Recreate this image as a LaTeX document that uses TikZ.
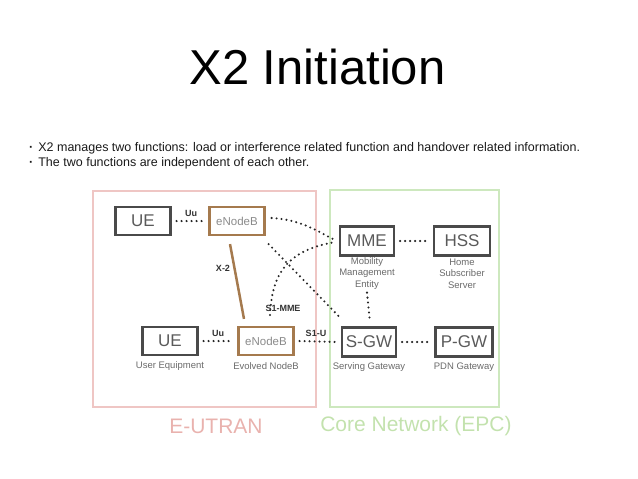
\documentclass[tikz,border=0pt]{standalone}
\usepackage{fontspec}
\setmainfont{Liberation Sans}
\definecolor{boxgray}{HTML}{4A4A4A}
\definecolor{txtgray}{HTML}{5A5A5A}
\definecolor{enbbrown}{HTML}{A57A4E}
\definecolor{enbtxt}{HTML}{8A8A8A}
\definecolor{desctxt}{HTML}{6A6A6A}
\definecolor{pinkline}{HTML}{EFC6C4}
\definecolor{pinktxt}{HTML}{E9B2AE}
\definecolor{greenline}{HTML}{CDE8BE}
\definecolor{greentxt}{HTML}{C3E2AE}
\begin{document}
\begin{tikzpicture}[x=1pt,y=-1pt,
  box/.style={draw=boxgray, line width=2.2pt, minimum width=55pt, minimum height=28pt, inner sep=0pt, text=txtgray, font=\fontsize{17}{17}\selectfont},
  enb/.style={box, draw=enbbrown, text=enbtxt, font=\fontsize{11.5}{11.5}\selectfont},
  desc/.style={text=desctxt, font=\fontsize{9.5}{11.5}\selectfont, align=center, inner sep=0pt},
  lbl/.style={font=\bfseries\fontsize{9}{9}\selectfont, text=black!80, inner sep=0pt},
  link/.style={line width=2.3pt, dash pattern=on 0pt off 5pt, line cap=round, draw=black!85},
  bullet/.style={anchor=base west, inner sep=0pt, font=\fontsize{12.5}{12.5}\selectfont, text=black!90}]
\useasboundingbox (0,0) rectangle (638,479);
% title
\node[anchor=base, inner sep=0pt, font=\fontsize{49}{49}\selectfont] (title) at (317.5,84) {X2 Initiation};
% bullets
\node[bullet] (b1) at (29,151) {\textbf{·}\hspace{5pt}X2 manages two functions: load or interference related function and handover related information.};
\node[bullet] (b2) at (29,166) {\textbf{·}\hspace{5pt}The two functions are independent of each other.};
% region boxes
\draw[pinkline, line width=1.5pt] (93,191) rectangle (316,407);
\draw[greenline, line width=1.5pt] (330,190) rectangle (499,407);
\node[text=pinktxt, font=\fontsize{21}{21}\selectfont, inner sep=0pt] (eutran) at (216,426) {E-UTRAN};
\node[text=greentxt, font=\fontsize{21}{21}\selectfont, inner sep=0pt] (core) at (416,426) {Core Network (EPC)};
% nodes
\node[box] (ue1) at (143,221) {UE};
\node[enb] (enb1) at (237,221) {eNodeB};
\node[box, minimum width=54pt, minimum height=29pt] (mme) at (367,241) {MME};
\node[box, minimum width=56pt, minimum height=29pt] (hss) at (462,241) {HSS};
\node[box] (ue2) at (170,341) {UE};
\node[enb] (enb2) at (266,341) {eNodeB};
\node[box, minimum width=54pt, minimum height=29pt] (sgw) at (369,342) {S-GW};
\node[box, minimum width=57pt, minimum height=29pt] (pgw) at (464,342) {P-GW};
% descriptions
\node[desc] (mmed) at (367,273.5) {Mobility\\Management\\Entity};
\node[desc] (hssd) at (462,273.5) {Home\\Subscriber\\Server};
\node[desc] (ue2d) at (170,366) {User Equipment};
\node[desc] (enb2d) at (266,366) {Evolved NodeB};
\node[desc] (sgwd) at (369,367) {Serving Gateway};
\node[desc] (pgwd) at (464,367) {PDN Gateway};
% links
\draw[link] ([xshift=5pt]ue1.east) -- ([xshift=-4pt]enb1.west);
\draw[link] ([xshift=5pt]ue2.east) -- ([xshift=-4pt]enb2.west);
\draw[link] ([xshift=5pt]enb2.east) -- ([xshift=-4pt]sgw.west);
\draw[link] ([xshift=5pt]sgw.east) -- ([xshift=-4pt]pgw.west);
\draw[link] ([xshift=5pt]mme.east) -- ([xshift=-4pt]hss.west);
\draw[link] ([yshift=-3pt]mmed.south) -- ([shift={(1pt,4pt)}]sgw.north);
\draw[link] ([shift={(6pt,3pt)}]enb1.east) .. controls +(30,2) and +(-20,-10) .. ([shift={(-4pt,1pt)}]mme.west);
\draw[link] ([shift={(3pt,-8pt)}]enb1.south east) -- ([shift={(-2pt,10pt)}]sgw.north west);
\draw[link] ([shift={(4pt,11pt)}]enb2.north) .. controls +(2,-40) and +(-50,8) .. ([shift={(-3pt,-1pt)}]mme.west);
% X-2
\draw[enbbrown, line width=2.5pt] ([shift={(-7pt,-8pt)}]enb1.south) -- ([shift={(-22pt,7pt)}]enb2.north);
% labels
\node[lbl] (uu1) at (191,213) {Uu};
\node[lbl] (uu2) at (218,333) {Uu};
\node[lbl] (x2) at (223,268) {X-2};
\node[lbl] (s1mme) at (283,308) {S1-MME};
\node[lbl] (s1u) at (316,333) {S1-U};
\end{tikzpicture}
\end{document}
